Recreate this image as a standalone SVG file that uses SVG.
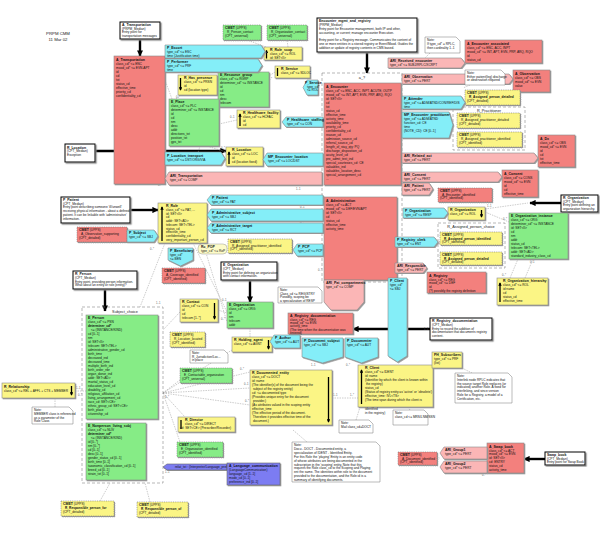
<svg xmlns="http://www.w3.org/2000/svg" width="600" height="535" viewBox="0 0 600 535">
<defs>
<style>
.t{font-family:"Liberation Sans",Arial,sans-serif;font-size:3.2px;fill:#111}
.b{font-weight:bold;font-size:3.5px}
.h{font-family:"Liberation Sans",Arial,sans-serif;font-size:4.3px;fill:#222}
.m{font-family:"Liberation Sans",Arial,sans-serif;font-size:2.6px;fill:#555}
.lb{font-family:"Liberation Sans",Arial,sans-serif;font-size:3.8px;fill:#222}
.act{fill:#f3807d;stroke:#8a8a8a;stroke-width:.6;filter:url(#sh)}
.ari{fill:#fbb6b6;stroke:#8a8a8a;stroke-width:.6;filter:url(#sh)}
.ent{fill:#86ec86;stroke:#8a8a8a;stroke-width:.6;filter:url(#sh)}
.rol{fill:#fbf585;stroke:#8a8a8a;stroke-width:.6;filter:url(#sh)}
.par{fill:#84eef8;stroke:#8a8a8a;stroke-width:.6;filter:url(#sh)}
.blu{fill:#7c7cf2;stroke:#666;stroke-width:.6;filter:url(#sh)}
.lyl{fill:#fdfbc8;stroke:#999;stroke-width:.5}
.cm{stroke:#777;stroke-dasharray:1 .8}
.en{fill:#fff;stroke:#000;stroke-width:1;filter:url(#sh2)}
.note{fill:#fff;stroke:#777;stroke-width:.5}
.ch{fill:none;stroke:#888;stroke-width:.6;stroke-dasharray:3 2}
.ln{fill:none;stroke:#999;stroke-width:.5;stroke-dasharray:1.5 1}
.thk{stroke:#000;stroke-width:2.4;fill:none}
.bar{stroke:#000;stroke-width:1.3;fill:none}
</style>
<marker id="ah" viewBox="0 0 10 10" refX="9" refY="5" markerWidth="2.6" markerHeight="2.6" orient="auto"><path d="M0,0L10,5L0,10z" fill="#000"/></marker>
<marker id="sa" viewBox="0 0 10 10" refX="8" refY="5" markerWidth="2.6" markerHeight="2.6" orient="auto"><path d="M0,0L10,5L0,10z" fill="#000"/></marker>
<filter id="sh" x="-5%" y="-5%" width="115%" height="115%"><feDropShadow dx="1" dy="1" stdDeviation="0.2" flood-color="#9a9a9a"/></filter>
<filter id="sh2" x="-5%" y="-5%" width="115%" height="120%"><feDropShadow dx="1.2" dy="1.2" stdDeviation="0.2" flood-color="#888"/></filter>
</defs>
<rect width="600" height="535" fill="#fff"/>
<text class="h" x="58" y="35" text-anchor="middle">PRPM CMM</text>
<text class="h" x="58" y="41" text-anchor="middle">11 Mar 02</text>

<g id="connectors">
<path class="thk" d="M140,39V56" marker-end="url(#ah)"/>
<path class="thk" d="M95,151H226" marker-end="url(#ah)"/>
<path class="thk" d="M367,52V73" marker-end="url(#ah)"/>
<path class="thk" d="M130,210H158" marker-end="url(#ah)"/>
<path class="thk" d="M105,289V311" marker-end="url(#ah)"/>
<path class="thk" d="M250,280V302" marker-end="url(#ah)"/>
<path class="thk" d="M561,203H530" marker-end="url(#ah)"/>
<path class="thk" d="M430,329H353" marker-end="url(#ah)"/>
<path class="thk" d="M545,459H524" marker-end="url(#ah)"/>
<path class="ln" d="M266,47L247,40M288,47L287,40M181,95L176,99M237,120L219,124M207,146L226,152M275,72L269,76M193,243L227,312M203,243L227,322M165,243L140,307M218,310L227,313M180,312L163,330M250,337L250,328M163,393L180,380M163,393L250,372M163,393L250,388M163,393L250,405M163,393L185,417M163,393L180,442M163,393L232,350M75,391H86M55,398V407M100,501L110,483M150,502L145,483M332,398H358M356,420L360,407M410,410L408,407M485,212L509,222M510,278L518,259M525,278L533,259M485,209L528,203M430,53L425,58M470,85L463,88M207,241L204,244M462,368L472,373M293,430L307,442M437,458H440M200,146L196,160M172,99L165,80"/>
<g class="m">
<text x="204" y="144">0..1</text><text x="221" y="149">0..*</text><text x="176" y="98">0..*</text><text x="230" y="118">0..1</text><text x="268" y="80">1..*</text><text x="222" y="301">0..1</text><text x="221" y="320">0..*</text><text x="150" y="250">0..*</text><text x="156" y="304">1..1</text><text x="76" y="389">1..1</text><text x="78" y="396">0..*</text><text x="165" y="398">0..*</text><text x="240" y="370">0..*</text><text x="244" y="385">0..1</text><text x="245" y="402">0..*</text><text x="333" y="396">1..1</text><text x="350" y="396">1..*</text><text x="502" y="276">0..*</text><text x="530" y="263">0..1</text><text x="487" y="207">1..1</text><text x="503" y="220">0..*</text><text x="159" y="140">1..1</text><text x="158" y="186">0..*</text><text x="318" y="271">0..*</text><text x="372" y="347">0..1</text><text x="402" y="372">1..1</text><text x="165" y="473">1..1</text><text x="212" y="471">0..*</text><text x="162" y="71">1..1</text><text x="296" y="190">1..1</text><text x="300" y="208">0..1</text><text x="300" y="224">0..*</text><text x="436" y="244">1..1</text><text x="311" y="366">1..1</text><text x="346" y="366">0..*</text><text x="482" y="464">1..1</text><text x="482" y="476">0..*</text><text x="424" y="330">1..1</text>
</g>
</g>

<g id="choices">
<rect class="ch" x="322" y="73" width="80" height="209"/><text class="lb" x="362" y="79" text-anchor="middle">a_?</text>
<rect class="ch" x="453" y="107" width="72" height="43"/><text class="lb" x="489" y="112" text-anchor="middle">R_Practitioner</text>
<rect class="ch" x="438" y="223" width="67" height="45"/><text class="lb" x="471" y="228" text-anchor="middle">R_Assigned_person_choice</text>
<rect class="ch" x="82" y="307" width="81" height="176"/><text class="lb" x="125" y="313" text-anchor="middle">Subject_choice</text>
</g>

<g id="A_Transportation_entry"><rect class="en" x="120" y="22" width="40" height="17"/><text class="t" x="122" y="26"><tspan class="b">A_Transportation</tspan><tspan x="122" dy="3.6">(PRPM_Median)</tspan><tspan x="122" dy="3.6">Entry point for</tspan><tspan x="122" dy="3.6">transportation messages</tspan></text></g>
<g id="R_Location_entry"><rect class="en" x="65" y="144" width="30" height="18"/><text class="t" x="67" y="148.5"><tspan class="b">R_Location</tspan><tspan x="67" dy="3.8">(CPT_Median)</tspan><tspan x="67" dy="3.8">Exception</tspan></text></g>
<g id="Encounter_entry"><rect class="en" x="317" y="18" width="100" height="34"/><text class="t" x="319" y="22"><tspan class="b">Encounter_mgmt_and_registry</tspan><tspan x="319" dy="3.6">(PRPM_Median)</tspan><tspan x="319" dy="4">Entry point for Encounter management, both IP and other,</tspan><tspan x="319" dy="4">accounting, or current; manage encounter Execution.</tspan><tspan x="319" dy="7.5">Entry point for a Registry message. Communicates the content of</tspan><tspan x="319" dy="4">one or more entities in a stored registry or Event/Mood. Guides the</tspan><tspan x="319" dy="4">addition or update of registry contents in CMS based.</tspan></text></g>
<g id="P_Patient_entry"><rect class="en" x="61" y="197" width="69" height="26"/><text class="t" x="63" y="201"><tspan class="b">P_Patient</tspan><tspan x="63" dy="3.5">(CPT_Median)</tspan><tspan x="63" dy="3.9">Entry point describing someone 'ill/unwell'</tspan><tspan x="63" dy="3.9">receiving physical information - about a defined</tspan><tspan x="63" dy="3.9">patient. It can be linkable with 'administrative'</tspan><tspan x="63" dy="3.9">information.</tspan></text></g>
<g id="R_Person_entry"><rect class="en" x="73" y="271" width="64" height="18"/><text class="t" x="75" y="275"><tspan class="b">R_Person</tspan><tspan x="75" dy="3.6">(CPT_Median)</tspan><tspan x="75" dy="3.9">Entry point, providing person information.</tspan><tspan x="75" dy="3.9">What about an entity or role (entity)?</tspan></text></g>
<g id="E_Organization_entry"><rect class="en" x="221" y="262" width="56" height="18"/><text class="t" x="223" y="266"><tspan class="b">E_Organization</tspan><tspan x="223" dy="3.6">(CPT_Median)</tspan><tspan x="223" dy="3.9">Entry point for defining an organization</tspan><tspan x="223" dy="3.9">with contact information.</tspan></text></g>
<g id="R_Organization_entry"><rect class="en" x="561" y="195" width="37" height="17"/><text class="t" x="563" y="199"><tspan class="b">R_Organization</tspan><tspan x="563" dy="3.6">(CPT_Median)</tspan><tspan x="563" dy="3.8">Entry point defining an</tspan><tspan x="563" dy="3.8">organization hierarchy.</tspan></text></g>
<g id="R_Registry_documentation_entry"><rect class="en" x="430" y="318" width="62" height="22"/><text class="t" x="432" y="322"><tspan class="b">R_Registry_documentation</tspan><tspan x="432" dy="3.6">(CPT_Median)</tspan><tspan x="432" dy="3.9">Entry to record the addition of</tspan><tspan x="432" dy="3.9">documentation that documents registry</tspan><tspan x="432" dy="3.9">content.</tspan></text></g>
<g id="Swap_book_entry"><rect class="en" x="545" y="452" width="40" height="13"/><text class="t" x="547" y="456"><tspan class="b">Swap_book</tspan><tspan x="547" dy="3.5">(CPT_Median)</tspan><tspan x="547" dy="3.8">Entry point for Swap Book</tspan></text></g>

<g id="A_Transportation"><rect class="act" x="114" y="56" width="51" height="128"/><text class="t" x="116" y="60.5"><tspan class="b">A_Transportation</tspan><tspan x="116" dy="4.2">class_cd* &lt;= ENC</tspan><tspan x="116" dy="4">mood_cd* &lt;= EVN.APT</tspan><tspan x="116" dy="4">id</tspan><tspan x="116" dy="4">cd</tspan><tspan x="116" dy="4">txt</tspan><tspan x="116" dy="4">status_cd</tspan><tspan x="116" dy="4">effective_time</tspan><tspan x="116" dy="4">priority_cd</tspan><tspan x="116" dy="4">confidentiality_cd</tspan></text></g>
<g id="A_Encounter"><rect class="act" x="324" y="83" width="77" height="102"/><text class="t" x="326" y="87.5"><tspan class="b">A_Encounter</tspan><tspan x="326" dy="4.2">class_cd* &lt;= ENC, ACC, INPT, ACUTE, OUTP</tspan><tspan x="326" dy="4">mood_cd* &lt;= INT, APT, EVN, PRP, ARQ, RQO</tspan><tspan x="326" dy="4">id: SET&lt;II&gt;</tspan><tspan x="326" dy="4">cd</tspan><tspan x="326" dy="4">txt</tspan><tspan x="326" dy="4">status_cd</tspan><tspan x="326" dy="4">effective_time</tspan><tspan x="326" dy="4">activity_time</tspan><tspan x="326" dy="4">availability_time</tspan><tspan x="326" dy="4">priority_cd</tspan><tspan x="326" dy="4">confidentiality_cd</tspan><tspan x="326" dy="4">reason_cd</tspan><tspan x="326" dy="4">admission_source_cd</tspan><tspan x="326" dy="4">referral_source_cd</tspan><tspan x="326" dy="4">length_of_stay_qty: PQ</tspan><tspan x="326" dy="4">discharge_disposition_cd</tspan><tspan x="326" dy="4">acuity_level_cd</tspan><tspan x="326" dy="4">pre_admit_test_ind</tspan><tspan x="326" dy="4">special_courtesies_cd: CE</tspan><tspan x="326" dy="4">valuables_ind</tspan><tspan x="326" dy="4">valuables_location_desc</tspan><tspan x="326" dy="4">special_arrangement_cd</tspan><tspan x="326" dy="4">...</tspan></text></g>
<g id="A_Administration"><rect class="act" x="324" y="197" width="73" height="83"/><text class="t" x="326" y="201.5"><tspan class="b">A_Administration</tspan><tspan x="326" dy="4.2">class_cd* &lt;= ACT</tspan><tspan x="326" dy="4">mood_cd* &lt;= DEF/EVN/APT</tspan><tspan x="326" dy="4">id: SET&lt;II&gt;</tspan><tspan x="326" dy="4">cd</tspan><tspan x="326" dy="4">status_cd</tspan><tspan x="326" dy="4">effective_time</tspan><tspan x="326" dy="4">activity_time</tspan></text></g>
<g id="A_Encounter_associated"><rect class="act" x="465" y="40" width="77" height="23"/><text class="t" x="467" y="44.5"><tspan class="b">A_Encounter_associated</tspan><tspan x="467" dy="4.2">class_cd* &lt;= ENC, ACC, INPT</tspan><tspan x="467" dy="4">mood_cd* &lt;= INT, APT, EVN, PRP, ARQ, RQO</tspan><tspan x="467" dy="4">id</tspan><tspan x="467" dy="4">status_cd</tspan></text></g>
<g id="A_Observation"><rect class="act" x="513" y="70" width="37" height="22"/><text class="t" x="515" y="74.5"><tspan class="b">A_Observation</tspan><tspan x="515" dy="4.2">class_cd* &lt;= OBS</tspan><tspan x="515" dy="4">mood_cd* &lt;= EVN</tspan><tspan x="515" dy="4">value</tspan></text></g>
<g id="A_Dx"><rect class="act" x="538" y="135" width="37" height="32"/><text class="t" x="540" y="139.5"><tspan class="b">A_Dx</tspan><tspan x="540" dy="4.2">class_cd* &lt;= OBS</tspan><tspan x="540" dy="4">mood_cd* &lt;= EVN</tspan><tspan x="540" dy="4">id</tspan><tspan x="540" dy="4">cd</tspan><tspan x="540" dy="4">txt</tspan><tspan x="540" dy="4">effective_time</tspan></text></g>
<g id="A_Consent"><rect class="act" x="502" y="170" width="36" height="27"/><text class="t" x="504" y="174.5"><tspan class="b">A_Consent</tspan><tspan x="504" dy="4.2">class_cd* &lt;= CONS</tspan><tspan x="504" dy="4">mood_cd* &lt;= EVN</tspan><tspan x="504" dy="4">id</tspan><tspan x="504" dy="4">cd</tspan><tspan x="504" dy="4">effective_time</tspan></text></g>
<g id="A_Registry_documentation"><rect class="act" x="288" y="313" width="65" height="21"/><text class="t" x="290" y="317"><tspan class="b">A_Registry_documentation</tspan><tspan x="290" dy="3.6">class_cd* &lt;= REG</tspan><tspan x="290" dy="3.4">mood_cd* &lt;= EVN</tspan><tspan x="290" dy="3.4">activity_time</tspan><tspan x="290" dy="3.4">(The time when the documentation was</tspan><tspan x="290" dy="3.4">entered)</tspan></text></g>
<g id="A_Registry"><rect class="act" x="427" y="272" width="59" height="21"/><text class="t" x="429" y="276.5"><tspan class="b">A_Registry</tspan><tspan x="429" dy="4">class_cd* &lt;= REG</tspan><tspan x="429" dy="3.8">mood_cd* &lt;= DEF</tspan><tspan x="429" dy="3.8">id</tspan><tspan x="429" dy="3.8">(?) possibly the registry definition</tspan></text></g>
<g id="A_Swap_book"><rect class="act" x="487" y="443" width="37" height="30"/><text class="t" x="489" y="447.5"><tspan class="b">A_Swap_book</tspan><tspan x="489" dy="4">class_cd* &lt;= ACT</tspan><tspan x="489" dy="3.8">mood_cd* &lt;= EVN</tspan><tspan x="489" dy="3.8">id: SET&lt;II&gt;</tspan><tspan x="489" dy="3.8">cd: ENTRY</tspan><tspan x="489" dy="3.8">status_cd</tspan><tspan x="489" dy="3.8">activity_time</tspan></text></g>

<g id="CMET_A_Observation_supporting"><rect class="act cm" x="77" y="227" width="50" height="15"/><text class="t" x="79" y="231"><tspan class="b">CMET</tspan> (UPPS)<tspan x="81" dy="3.9">A_Observation_supporting</tspan><tspan x="79" dy="3.9">(CPT_detailed)</tspan></text></g>
<g id="CMET_A_Coverage"><rect class="act cm" x="162" y="268" width="43" height="15"/><text class="t" x="164" y="272"><tspan class="b">CMET</tspan> (UPPS)<tspan x="166" dy="3.9">A_Coverage_identified</tspan><tspan x="164" dy="3.9">(CPT_identified)</tspan></text></g>
<g id="CMET_A_Encounter_identified"><rect class="act cm" x="438" y="188" width="54" height="14"/><text class="t" x="440" y="192"><tspan class="b">CMET</tspan> (UPPS)<tspan x="442" dy="3.7">A_Encounter_identified</tspan><tspan x="440" dy="3.7">(CPT_identified)</tspan></text></g>
<g id="CMET_A_Document_identified"><rect class="act cm" x="398" y="452" width="39" height="13"/><text class="t" x="400" y="456"><tspan class="b">CMET</tspan> (UPPS)<tspan x="402" dy="3.5">A_Document_identified</tspan><tspan x="400" dy="3.5">(CPT_identified)</tspan></text></g>

<g id="E_Resource_group"><rect class="ent" x="218" y="72" width="51" height="35"/><text class="t" x="220" y="76"><tspan class="b">E_Resource_group</tspan><tspan x="220" dy="4">class_cd* &lt;= RGRP</tspan><tspan x="220" dy="4">determiner_cd* &lt;= INSTANCE</tspan><tspan x="220" dy="4">id</tspan><tspan x="220" dy="4">cd</tspan><tspan x="220" dy="4">nm</tspan><tspan x="220" dy="4">desc</tspan><tspan x="220" dy="4">telecom</tspan></text></g>
<g id="E_Place"><rect class="ent" x="169" y="99" width="50" height="47"/><text class="t" x="171" y="103"><tspan class="b">E_Place</tspan><tspan x="171" dy="4">class_cd* &lt;= PLC</tspan><tspan x="171" dy="4">determiner_cd* &lt;= INSTANCE</tspan><tspan x="171" dy="4">id</tspan><tspan x="171" dy="4">cd</tspan><tspan x="171" dy="4">nm</tspan><tspan x="171" dy="4">desc</tspan><tspan x="171" dy="4">addr</tspan><tspan x="171" dy="4">directions_txt</tspan><tspan x="171" dy="4">position_txt</tspan><tspan x="171" dy="4">gps_txt</tspan></text></g>
<g id="E_Organization"><rect class="ent" x="227" y="302" width="46" height="26"/><text class="t" x="229" y="306"><tspan class="b">E_Organization</tspan><tspan x="229" dy="4">class_cd* &lt;= ORG</tspan><tspan x="229" dy="4">id</tspan><tspan x="229" dy="4">nm</tspan><tspan x="229" dy="4">telecom</tspan><tspan x="229" dy="4">addr</tspan></text></g>
<g id="E_Organization_instance"><rect class="ent" x="509" y="213" width="59" height="46"/><text class="t" x="511" y="217"><tspan class="b">E_Organization_instance</tspan><tspan x="511" dy="4">class_cd* &lt;= ORG</tspan><tspan x="511" dy="4">determiner_cd* &lt;= INSTANCE</tspan><tspan x="511" dy="4">id: SET&lt;II&gt;</tspan><tspan x="511" dy="4">cd</tspan><tspan x="511" dy="4">nm</tspan><tspan x="511" dy="4">addr</tspan><tspan x="511" dy="4">status_cd</tspan><tspan x="511" dy="4">telecom: SET&lt;TEL&gt;</tspan><tspan x="511" dy="4">addr: SET&lt;AD&gt;</tspan><tspan x="511" dy="4">standard_industry_class_cd</tspan></text></g>
<g id="E_Person"><rect class="ent" x="86" y="315" width="72" height="104"/><text class="t" x="88" y="319"><tspan class="b">E_Person</tspan><tspan x="88" dy="4">class_cd* &lt;= PSN</tspan><tspan x="88" dy="4" font-weight="bold">determiner_cd*</tspan><tspan x="91" dy="4">&lt;= (INSTANCE/KIND)</tspan><tspan x="88" dy="4">cd [0..1]</tspan><tspan x="88" dy="4">nm</tspan><tspan x="88" dy="4">id: SET&lt;II&gt;</tspan><tspan x="88" dy="4">telecom: SET&lt;TEL&gt;</tspan><tspan x="88" dy="4">administrative_gender_cd</tspan><tspan x="88" dy="4">birth_time</tspan><tspan x="88" dy="4">deceased_ind</tspan><tspan x="88" dy="4">deceased_time</tspan><tspan x="88" dy="4">multiple_birth_ind</tspan><tspan x="88" dy="4">birth_order_nbr</tspan><tspan x="88" dy="4">organ_donor_ind</tspan><tspan x="88" dy="4">addr: SET&lt;AD&gt;</tspan><tspan x="88" dy="4">marital_status_cd</tspan><tspan x="88" dy="4">education_level_cd</tspan><tspan x="88" dy="4">disability_cd</tspan><tspan x="88" dy="4">religious_affiliation_cd</tspan><tspan x="88" dy="4">living_arrangement_cd</tspan><tspan x="88" dy="4">race_cd: SET&lt;CE&gt;</tspan><tspan x="88" dy="4">ethnic_group_cd: SET&lt;CE&gt;</tspan><tspan x="88" dy="4">birth_place</tspan><tspan x="88" dy="4">citizenship_cd</tspan></text></g>
<g id="E_Nonperson_living_subj"><rect class="ent" x="86" y="423" width="60" height="57"/><text class="t" x="88" y="427"><tspan class="b">E_Nonperson_living_subj</tspan><tspan x="88" dy="4">class_cd* &lt;= NLIV</tspan><tspan x="88" dy="4" font-weight="bold">determiner_cd*</tspan><tspan x="91" dy="4">&lt;= (INSTANCE/KIND)</tspan><tspan x="88" dy="4">id [0..*]</tspan><tspan x="88" dy="4">nm [0..*]</tspan><tspan x="88" dy="4">cd [0..1]</tspan><tspan x="88" dy="4">desc [0..1]</tspan><tspan x="88" dy="4">gender_status_cd [0..1]</tspan><tspan x="88" dy="4">birth_time [0..1]</tspan><tspan x="88" dy="4">taxonomic_classification_cd [0..1]</tspan><tspan x="88" dy="4">breed_cd [0..1]</tspan><tspan x="88" dy="4">strain_txt [0..1]</tspan></text></g>

<g id="CMET_R_Person_contact"><rect class="ent cm" x="223" y="25" width="38" height="15"/><text class="t" x="225" y="29"><tspan class="b">CMET</tspan> (UPPS)<tspan x="227" dy="3.9">R_Person_contact</tspan><tspan x="225" dy="3.9">(CPT_universal)</tspan></text></g>
<g id="CMET_R_Organization_contact"><rect class="ent cm" x="267" y="25" width="40" height="15"/><text class="t" x="269" y="29"><tspan class="b">CMET</tspan> (UPPS)<tspan x="271" dy="3.9">R_Organization_contact</tspan><tspan x="269" dy="3.9">(CPT_universal)</tspan></text></g>
<g id="CMET_E_Contactable_organization"><rect class="ent cm" x="180" y="368" width="52" height="15"/><text class="t" x="182" y="372"><tspan class="b">CMET</tspan> (UPPS)<tspan x="184" dy="3.9">E_Contactable_organization</tspan><tspan x="182" dy="3.9">(CPT_universal)</tspan></text></g>
<g id="CMET_E_Organization_identified"><rect class="ent cm" x="177" y="442" width="46" height="15"/><text class="t" x="179" y="446"><tspan class="b">CMET</tspan> (UPPS)<tspan x="181" dy="3.9">E_Organization_identified</tspan><tspan x="179" dy="3.9">(CPT_identified)</tspan></text></g>

<g id="R_Role_scop"><rect class="rol" x="264" y="47" width="38" height="13"/><path class="bar" d="M266.5,58.5V50.5" marker-end="url(#sa)"/><text class="t" x="270" y="51"><tspan class="b">R_Role_scop</tspan><tspan x="270" dy="4">class_cd* &lt;= ROL</tspan><tspan x="270" dy="3.8">id: SET&lt;II&gt;</tspan></text></g>
<g id="R_Service"><rect class="rol" x="275" y="66" width="35" height="12"/><path class="bar" d="M277.5,68V76"/><text class="t" x="281" y="70"><tspan class="b">R_Service</tspan><tspan x="281" dy="4">class_cd* &lt;= SDLOC</tspan></text></g>
<g id="R_Has_presence"><rect class="rol" x="178" y="75" width="39" height="20"/><path class="bar" d="M180.5,78V90" marker-end="url(#sa)"/><text class="t" x="184" y="79"><tspan class="b">R_Has_presence</tspan><tspan x="184" dy="4">class_cd* &lt;= PRSN</tspan><tspan x="184" dy="4">id</tspan><tspan x="184" dy="4">cd (location type)</tspan></text></g>
<g id="R_Healthcare_facility"><rect class="rol" x="237" y="110" width="43" height="18"/><path class="bar" d="M240,126V114" marker-end="url(#sa)"/><text class="t" x="243" y="114"><tspan class="b">R_Healthcare_facility</tspan><tspan x="243" dy="4">class_cd* &lt;= HCFAC</tspan><tspan x="243" dy="4">id</tspan><tspan x="243" dy="4">cd</tspan></text></g>
<g id="R_Location"><rect class="rol" x="226" y="147" width="37" height="19"/><path class="bar" d="M229,164V152" marker-end="url(#sa)"/><text class="t" x="232" y="151"><tspan class="b">R_Location</tspan><tspan x="232" dy="4">class_cd* &lt;= LOC</tspan><tspan x="232" dy="4">id</tspan><tspan x="232" dy="4">cd (location fixed)</tspan></text></g>
<g id="R_Role"><rect class="rol" x="158" y="203" width="49" height="40"/><path class="bar" d="M162,241V207" marker-end="url(#sa)"/><text class="t" x="166" y="207"><tspan class="b">R_Role</tspan><tspan x="166" dy="4">class_cd* &lt;= PAT, ...</tspan><tspan x="166" dy="3.7">id: SET&lt;II&gt;</tspan><tspan x="166" dy="3.7">cd</tspan><tspan x="166" dy="3.7">addr: SET&lt;AD&gt;</tspan><tspan x="166" dy="3.7">telecom: SET&lt;TEL&gt;</tspan><tspan x="166" dy="3.7">status_cd</tspan><tspan x="166" dy="3.7">effective_time</tspan><tspan x="166" dy="3.7">confidentiality_cd</tspan><tspan x="166" dy="3.7">very_important_person_cd</tspan></text></g>
<g id="Rc_POP"><rect class="lyl" x="198" y="244" width="29" height="10" rx="4"/><text class="t" x="201" y="248"><tspan class="b">Rc_POP</tspan><tspan x="201" dy="3.8">type_cd* &lt;= RoP</tspan></text></g>
<g id="R_Contact"><rect class="rol" x="180" y="299" width="38" height="23"/><path class="bar" d="M214.5,303V319" marker-end="url(#sa)"/><text class="t" x="182" y="303"><tspan class="b">R_Contact</tspan><tspan x="182" dy="4">class_cd* &lt;= CON</tspan><tspan x="182" dy="4">id</tspan><tspan x="182" dy="4">cd</tspan><tspan x="182" dy="4">telecom [1..*]</tspan></text></g>
<g id="R_Holding_agent"><rect class="rol" x="232" y="337" width="40" height="15"/><path class="bar" d="M268.5,340V349" marker-end="url(#sa)"/><text class="t" x="234" y="341"><tspan class="b">R_Holding_agent</tspan><tspan x="234" dy="4.2">class_cd* &lt;= AGNT</tspan></text></g>
<g id="R_Relationship"><rect class="rol" x="2" y="383" width="73" height="15"/><path class="bar" d="M71.5,386V395" marker-end="url(#sa)"/><text class="t" x="4" y="387.5"><tspan class="b">R_Relationship</tspan><tspan x="4" dy="4.5">class_cd* &lt;= REL + AFFL + CTS + MEMBER</tspan></text></g>
<g id="R_Director"><rect class="rol" x="178" y="417" width="57" height="15"/><path class="bar" d="M181,420V429"/><text class="t" x="185" y="421"><tspan class="b">R_Director</tspan><tspan x="185" dy="4">class_cd* &lt;= DIRECT</tspan><tspan x="180" dy="4">cd: SET&lt;CE&gt; (Prescriber/Recorder)</tspan></text></g>
<g id="R_Documented_entity"><rect class="rol" x="250" y="370" width="82" height="55"/><path class="bar" d="M328.5,377V422" marker-end="url(#sa)"/><text class="t" x="252" y="374"><tspan class="b">R_Documented_entity</tspan><tspan x="252" dy="4">class_cd* &lt;= DOCT</tspan><tspan x="252" dy="4">id: name</tspan><tspan x="252" dy="4">(The identifier(s) of the document being the</tspan><tspan x="252" dy="4"> subject of the registry entity)</tspan><tspan x="252" dy="4">cd: &lt;= documented type</tspan><tspan x="252" dy="4">(Provides unique entry for the document</tspan><tspan x="252" dy="4"> provider.)</tspan><tspan x="252" dy="4">(As attributes valued in the scoping entity</tspan><tspan x="252" dy="4">effective_time</tspan><tspan x="252" dy="4">(The effective period of the document.</tspan><tspan x="252" dy="4"> Therefore it provides effective time of the</tspan><tspan x="252" dy="4"> document.)</tspan></text></g>
<g id="R_Client"><rect class="rol" x="358" y="365" width="75" height="42"/><path class="bar" d="M361.5,404V370" marker-end="url(#sa)"/><text class="t" x="365" y="369"><tspan class="b">R_Client</tspan><tspan x="365" dy="4">class_cd* &lt;= IDENT</tspan><tspan x="365" dy="4">id: name</tspan><tspan x="365" dy="4">(Identifier by which the client is known within</tspan><tspan x="365" dy="4"> the registry)</tspan><tspan x="365" dy="4">status_cd</tspan><tspan x="365" dy="4">(Status of registry entity as 'active' or 'obsolete')</tspan><tspan x="365" dy="4">effective_time: IVL&lt;TS&gt;</tspan><tspan x="365" dy="4">(The time span during which the client is</tspan></text><text class="t" x="365" y="410"><tspan>identified</tspan><tspan x="365" dy="4">in the registry)</tspan></text></g>
<g id="R_Organization"><rect class="rol" x="448" y="207" width="37" height="13"/><path class="bar" d="M481.5,210V217" marker-end="url(#sa)"/><text class="t" x="450" y="211"><tspan class="b">R_Organization</tspan><tspan x="450" dy="4.2">class_cd* &lt;= ROL</tspan></text></g>
<g id="R_Organization_hierarchy"><rect class="rol" x="497" y="278" width="51" height="27"/><path class="bar" d="M500,302V283" marker-end="url(#sa)"/><text class="t" x="503" y="282"><tspan class="b">R_Organization_hierarchy</tspan><tspan x="503" dy="4">class_cd* &lt;= ROL</tspan><tspan x="503" dy="4">id name</tspan><tspan x="503" dy="4">cd</tspan><tspan x="503" dy="4">status_cd</tspan><tspan x="503" dy="4">effective_time</tspan></text></g>
<g id="PH_Subscribers"><rect class="rol" x="432" y="352" width="30" height="16"/><text class="t" x="434" y="356"><tspan class="b">PH_Subscribers</tspan><tspan x="434" dy="4">type_cd* &lt;= PRF</tspan><tspan x="434" dy="4">(list)</tspan></text></g>

<g id="CMET_R_Assigned_person_detailed"><rect class="rol cm" x="465" y="90" width="55" height="15"/><text class="t" x="467" y="94"><tspan class="b">CMET</tspan> (UPPS)<tspan x="469" dy="3.9" font-weight="bold">R_Assigned_person_detailed</tspan><tspan x="467" dy="3.9">(CPT_detailed)</tspan></text></g>
<g id="CMET_R_Assigned_practitioner_detailed"><rect class="rol cm" x="457" y="113" width="63" height="15"/><text class="t" x="459" y="117"><tspan class="b">CMET</tspan> (UPPS)<tspan x="461" dy="3.9">R_Assigned_practitioner_detailed</tspan><tspan x="459" dy="3.9">(CPT_detailed)</tspan></text></g>
<g id="CMET_R_Assigned_practitioner_identified"><rect class="rol cm" x="457" y="132" width="65" height="15"/><text class="t" x="459" y="136"><tspan class="b">CMET</tspan> (UPPS)<tspan x="461" dy="3.9">R_Assigned_practitioner_identified</tspan><tspan x="459" dy="3.9">(CPT_identified)</tspan></text></g>
<g id="CMET_R_Assigned_practitioner_identified2"><rect class="rol cm" x="228" y="239" width="64" height="14"/><text class="t" x="230" y="243"><tspan class="b">CMET</tspan> (UPPS)<tspan x="232" dy="3.7">R_Assigned_practitioner_identified</tspan><tspan x="230" dy="3.7">(CPT_identified)</tspan></text></g>
<g id="CMET_R_Assigned_person_identified"><rect class="rol cm" x="440" y="232" width="62" height="13"/><text class="t" x="442" y="236"><tspan class="b">CMET</tspan> (UPPS)<tspan x="444" dy="3.5" font-weight="bold">R_Assigned_person_identified</tspan><tspan x="442" dy="3.5">(CPT_identified)</tspan></text></g>
<g id="CMET_R_Assigned_person_detailed2"><rect class="rol cm" x="440" y="252" width="62" height="13"/><text class="t" x="442" y="256"><tspan class="b">CMET</tspan> (UPPS)<tspan x="444" dy="3.5" font-weight="bold">R_Assigned_person_detailed</tspan><tspan x="442" dy="3.5">(CPT_detailed)</tspan></text></g>
<g id="CMET_R_Location_located"><rect class="rol cm" x="170" y="332" width="35" height="15"/><text class="t" x="172" y="336"><tspan class="b">CMET</tspan> (UPPS)<tspan x="174" dy="3.9">R_Location_located</tspan><tspan x="172" dy="3.9">(CPT_identified)</tspan></text></g>
<g id="CMET_R_Responsible_person_for"><rect class="rol cm" x="61" y="501" width="53" height="15"/><text class="t" x="63" y="505"><tspan class="b">CMET</tspan> (UPPS)<tspan x="65" dy="3.9" font-weight="bold">R_Responsible_person_for</tspan><tspan x="63" dy="3.9">(CPT_detailed)</tspan></text></g>
<g id="CMET_R_Responsible_person_of"><rect class="rol cm" x="137" y="502" width="51" height="15"/><text class="t" x="139" y="506"><tspan class="b">CMET</tspan> (UPPS)<tspan x="141" dy="3.9" font-weight="bold">R_Responsible_person_of</tspan><tspan x="139" dy="3.9">(CPT_detailed)</tspan></text></g>

<g id="P_Escort"><polygon class="par" points="165,45 261,45 265,51.5 261,58 165,58"/><text class="t" x="167" y="49"><tspan class="b">P_Escort</tspan><tspan x="167" dy="3.9">type_cd* &lt;= ESC</tspan><tspan x="167" dy="3.9">time (Justification time)</tspan></text></g>
<g id="P_Performer"><polygon class="par" points="165,59 258,59 262,65.5 258,72 165,72"/><text class="t" x="167" y="63"><tspan class="b">P_Performer</tspan><tspan x="167" dy="3.9">type_cd* &lt;= PRF</tspan><tspan x="167" dy="3.9">time</tspan></text></g>
<g id="P_Location_transport"><polygon class="par" points="165,152 221,152 225,158.5 221,165 165,165"/><text class="t" x="167" y="156.5"><tspan class="b">P_Location_transport</tspan><tspan x="167" dy="4.5">type_cd* &lt;= DST/ORG/VIA</tspan></text></g>
<g id="MP_Encounter_location"><polygon class="par" points="267,153 323,153 323,166 267,166 263,159.5"/><text class="t" x="268" y="157.5"><tspan class="b">MP_Encounter_location</tspan><tspan x="268" dy="4.5">type_cd* &lt;= LOC/DST</tspan></text></g>
<g id="P_Healthcare_staffing"><polygon class="par" points="286,117 323,117 323,127 286,127 282,122"/><text class="t" x="287" y="121"><tspan class="b">P_Healthcare_staffing</tspan><tspan x="287" dy="3.8">type_cd* &lt;= CON</tspan></text></g>
<g id="P_Service"><polygon class="par" points="307,80 318,80 318,95 307,95 303,87.5"/><text class="t" x="305" y="84" font-size="2.8"><tspan class="b" font-size="3">P_Service</tspan><tspan x="307" dy="3.6">type_cd*</tspan><tspan x="307" dy="3.6">&lt;= ROL</tspan></text></g>
<g id="P_Attender"><polygon class="par" points="402,96 461,96 465,102.5 461,109 402,109"/><text class="t" x="404" y="100"><tspan class="b">P_Attender</tspan><tspan x="404" dy="4">type_cd* &lt;= ADM/ATND/CON/REF/DIS</tspan><tspan x="404" dy="3.8">time</tspan></text></g>
<g id="MP_Encounter_practitioner"><polygon class="par" points="402,112 449,112 453,125 449,138 402,138"/><text class="t" x="404" y="116"><tspan class="b">MP_Encounter_practitioner</tspan><tspan x="404" dy="4">type_cd* &lt;= ADM/ATND</tspan><tspan x="404" dy="4">function_cd: CE</tspan><tspan x="404" dy="4">time</tspan><tspan x="404" dy="4">(NOTE_CD): CE [0..1]</tspan></text></g>
<g id="P_Subject"><polygon class="par" points="127,230 154,230 158,236 154,242 127,242"/><text class="t" x="129" y="234"><tspan class="b">P_Subject</tspan><tspan x="129" dy="4.2">type_cd* &lt;= SBJ</tspan></text></g>
<g id="P_Patient"><polygon class="par" points="211,195 323,195 323,205 211,205 207,200"/><text class="t" x="212" y="199"><tspan class="b">P_Patient</tspan><tspan x="212" dy="3.8">type_cd* &lt;= PAT</tspan></text></g>
<g id="P_Administrative_subject"><polygon class="par" points="211,209 323,209 323,221 211,221 207,215"/><text class="t" x="212" y="213.5"><tspan class="b">P_Administrative_subject</tspan><tspan x="212" dy="4.3">type_cd* &lt;= SBJ</tspan></text></g>
<g id="P_Administrative_target"><polygon class="par" points="211,223 323,223 323,233 211,233 207,228"/><text class="t" x="212" y="227"><tspan class="b">P_Administrative_target</tspan><tspan x="212" dy="4">type_cd* &lt;= RCT</tspan></text></g>
<g id="P_PCP"><polygon class="par" points="297,244 323,244 323,256 297,256 293,250"/><text class="t" x="298" y="248"><tspan class="b">P_PCP</tspan><tspan x="298" dy="4.3">type_cd* &lt;= PCP</tspan></text></g>
<g id="P_Beneficiary"><polygon class="par" points="168,248 193,248 193,260 180.5,266 168,260"/><text class="t" x="170" y="252"><tspan class="b">P_Beneficiary</tspan><tspan x="170" dy="4">type_cd*</tspan><tspan x="170" dy="4">&lt;= BEN</tspan></text></g>
<g id="P_Organization"><polygon class="par" points="403,208 444,208 448,213 444,218 403,218"/><text class="t" x="405" y="212"><tspan class="b">P_Organization</tspan><tspan x="405" dy="3.8">type_cd* &lt;= RESP</tspan></text></g>
<g id="P_Registry_clerk"><polygon class="par" points="395,237 434,237 438,242 434,247 395,247"/><text class="t" x="397" y="241"><tspan class="b">P_Registry_clerk</tspan><tspan x="397" dy="3.8">type_cd* &lt;= ENT</tspan></text></g>
<g id="P_Client"><polygon class="par" points="388,278 407,278 407,356 397.5,362 388,356"/><text class="t" x="390" y="282"><tspan class="b">P_Client</tspan><tspan x="390" dy="4">type_cd*</tspan><tspan x="390" dy="4">&lt;= SBJ</tspan></text></g>
<g id="P_Author"><polygon class="par" points="274,335 300,335 300,348 274,348 270,341.5"/><text class="t" x="275" y="339"><tspan class="b">P_Author</tspan><tspan x="275" dy="4.3">type_cd* &lt;= AUT</tspan></text></g>
<g id="P_Document_subject"><polygon class="par" points="302,338 343,338 343,357 322.5,363 302,357"/><text class="t" x="304" y="342"><tspan class="b">P_Document_subject</tspan><tspan x="304" dy="4">type_cd* &lt;= SBJ</tspan></text></g>
<g id="P_Documenter"><polygon class="par" points="345,338 378,338 378,357 361.5,363 345,357"/><text class="t" x="347" y="342"><tspan class="b">P_Documenter</tspan><tspan x="347" dy="4">type_cd* &lt;= AUT</tspan></text></g>

<g id="ARI_Transportation"><polygon class="ari" points="169,172 322,172 322,185 169,185 165,178.5"/><text class="t" x="170" y="176.5"><tspan class="b">ARI_Transportation</tspan><tspan x="170" dy="4.3">type_cd* &lt;= COMP</tspan></text></g>
<g id="ARI_Received_encounter"><polygon class="ari" points="388,58 461,58 465,63 461,68 388,68"/><text class="t" x="390" y="62"><tspan class="b">ARI_Received_encounter</tspan><tspan x="390" dy="3.8">type_cd* &lt;= SUBJ/RPLC/XCRPT</tspan></text></g>
<g id="ARI_Observation"><polygon class="ari" points="402,74 509,74 513,79 509,84 402,84"/><text class="t" x="404" y="78"><tspan class="b">ARI_Observation</tspan><tspan x="404" dy="3.8">type_cd* &lt;= PERT</tspan></text></g>
<g id="ARI_Related_act"><polygon class="ari" points="402,153 534,153 538,158 534,163 402,163"/><text class="t" x="404" y="157"><tspan class="b">ARI_Related_act</tspan><tspan x="404" dy="3.8">type_cd* &lt;= PERT</tspan></text></g>
<g id="ARI_Consent"><polygon class="ari" points="402,172 498,172 502,177 498,182 402,182"/><text class="t" x="404" y="176"><tspan class="b">ARI_Consent</tspan><tspan x="404" dy="3.8">type_cd* &lt;= PERT</tspan></text></g>
<g id="ARI_Patient"><polygon class="ari" points="402,183 429,183 433,189 429,195 402,195"/><text class="t" x="404" y="187"><tspan class="b">ARI_Patient</tspan><tspan x="404" dy="4.2">type_cd* &lt;= PERT</tspan></text></g>
<g id="ARI_Responsible"><polygon class="ari" points="395,263 423,263 427,268 423,273 395,273"/><text class="t" x="397" y="267"><tspan class="b">ARI_Responsible</tspan><tspan x="397" dy="3.8">type_cd* &lt;= PERT</tspan></text></g>
<g id="ARI_Patient_compartments"><polygon class="ari" points="324,280 364,280 364,302 357,310 331,310 324,302"/><text class="t" x="326" y="284"><tspan class="b">ARI_Pat_compartments</tspan><tspan x="326" dy="4">type_cd* &lt;= COMP</tspan></text></g>
<g id="ARI_Group1"><polygon class="ari" points="444,447 487,447 487,459 444,459 440,453"/><text class="t" x="445" y="451"><tspan class="b">ARI_Group1</tspan><tspan x="445" dy="4.3">type_cd* &lt;= PERT</tspan></text></g>
<g id="ARI_Group2"><polygon class="ari" points="444,461 487,461 487,473 444,473 440,467"/><text class="t" x="445" y="465"><tspan class="b">ARI_Group2</tspan><tspan x="445" dy="4.3">type_cd* &lt;= PERT</tspan></text></g>

<g id="P_Language"><polygon class="blu" points="167,464 227,464 227,470 167,470 163,467"/><text class="t" x="175" y="468.2">relat_txt : (Interpreter/Language_pref)</text></g>
<g id="A_Language_communication"><rect class="blu" x="227" y="463" width="53" height="22"/><text class="t" x="229" y="467"><tspan class="b">A_Language_communication</tspan><tspan x="229" dy="3.8">(LanguageCommunication)</tspan><tspan x="229" dy="4.4">language_cd [1..1]</tspan><tspan x="229" dy="3.8">mode_cd [0..1]</tspan><tspan x="229" dy="3.8">preference_ind [0..1]</tspan></text></g>

<g id="notes">
<g id="N1"><path class="note" d="M425,37H456L460,41V53H425Z"/><text class="t" x="427" y="41"><tspan>Note:</tspan><tspan x="427" dy="3.8">If type_cd* = RPLC,</tspan><tspan x="427" dy="3.8">then cardinality 1..1</tspan></text></g>
<g id="N2"><path class="note" d="M465,70H501L505,74V85H465Z"/><text class="t" x="467" y="74"><tspan>Note:</tspan><tspan x="467" dy="3.6">Either patient(leg) discharge</tspan><tspan x="467" dy="3.6">or observation required</tspan></text></g>
<g id="N3"><path class="note" d="M278,287H318L322,291V303H278Z"/><text class="t" x="280" y="291"><tspan>Note:</tspan><tspan x="280" dy="3.7">Class_cd &lt;= REGISTRY</tspan><tspan x="280" dy="3.7">Possibly, scoping be</tspan><tspan x="280" dy="3.7">a specialization of RESP</tspan></text></g>
<g id="N4"><path class="note" d="M190,350H224L228,354V363H190Z"/><text class="t" x="192" y="354"><tspan>Note:</tspan><tspan x="192" dy="3.6">R_Jurisdiction/Loc...</tspan><tspan x="192" dy="3.6">in place</tspan></text></g>
<g id="N5"><path class="note" d="M32,407H69L73,411V424H32Z"/><text class="t" x="34" y="411"><tspan>Note:</tspan><tspan x="34" dy="3.8">MEMBER class is referenced</tspan><tspan x="34" dy="3.8">as a parameter of the</tspan><tspan x="34" dy="3.8">Role Class</tspan></text></g>
<g id="N6"><path class="note" d="M339,420H369L373,424V433H339Z"/><text class="t" x="341" y="424"><tspan>Note:</tspan><tspan x="341" dy="4">Mail class_cd=DOCT</tspan></text></g>
<g id="N7"><path class="note" d="M393,410H424L428,414V425H393Z"/><text class="t" x="395" y="414"><tspan>Note:</tspan><tspan x="395" dy="4">class_cd &lt;= MRS/LNM/SSN</tspan></text></g>
<g id="N8"><path class="note" d="M292,442H376L380,446V482H292Z"/><text class="t" x="294" y="446"><tspan>Note:</tspan><tspan x="294" dy="3.9">Docu - DOCT - Documented entity, a</tspan><tspan x="294" dy="3.9">specialization of IDENT - Identified Entity.</tspan><tspan x="294" dy="3.9">For this Role the 'playing' Entity is an entity code</tspan><tspan x="294" dy="3.9">of whose attributes are being documented in the</tspan><tspan x="294" dy="3.9">subscription in the 'scoping' entity. Note that this</tspan><tspan x="294" dy="3.9">requires the Role class_cd to the Scoping and Playing</tspan><tspan x="294" dy="3.9">ent the same. The identities within role to the document</tspan><tspan x="294" dy="3.9">provided to the documentation, and the Role id is a</tspan><tspan x="294" dy="3.9">summary of identifying documents.</tspan></text></g>
<g id="N9"><path class="note" d="M455,373H508L512,377V403H455Z"/><text class="t" x="457" y="377"><tspan>Note:</tspan><tspan x="457" dy="3.8">Interlink node RPLC indicates that</tspan><tspan x="457" dy="3.8">the source target Role replaces (or</tspan><tspan x="457" dy="3.8">indicated) another Role. A fixed for</tspan><tspan x="457" dy="3.8">interlinking, and since version</tspan><tspan x="457" dy="3.8">Role for a Registry, a model of a</tspan><tspan x="457" dy="3.8">Certification, etc.</tspan></text></g>
</g>
</svg>
